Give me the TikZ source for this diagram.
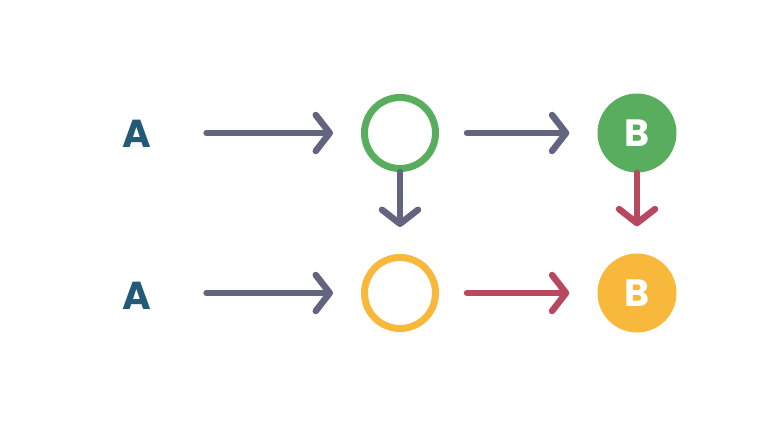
\documentclass[tikz,border=0pt]{standalone}
\usepackage{fontspec}
\setmainfont{Poppins}
\usetikzlibrary{arrows.meta}

\definecolor{letterblue}{HTML}{235A78}
\definecolor{arrowgray}{HTML}{63647F}
\definecolor{arrowred}{HTML}{B84860}
\definecolor{ringgreen}{HTML}{58AE5E}
\definecolor{ringyellow}{HTML}{F8B83C}

\tikzset{
  letter/.style={text=letterblue,font=\fontsize{39}{39}\selectfont\bfseries,inner sep=0pt},
  ring/.style={circle,draw=#1,line width=7pt,minimum size=71pt,inner sep=0pt},
  disc/.style={circle,fill=#1,minimum size=79pt,inner sep=0pt,text=white,
    font=\fontsize{38}{38}\selectfont\bfseries},
  flow/.style={draw=#1,line width=6.5pt,line cap=round,
    -{Straight Barb[length=14pt,width=36pt,round]}}
}

\begin{document}
\begin{tikzpicture}[x=1pt,y=-1pt]
        \useasboundingbox (0,0) rectangle (768,432);
        % top row
        \node[letter] (a1) at (137,134) {A};
        \node[ring=ringgreen] (c1) at (400,133) {};
        \node[disc=ringgreen] (b1) at (637,133) {B};
        % bottom row
        \node[letter] (a2) at (137,296) {A};
        \node[ring=ringyellow] (c2) at (400,293) {};
        \node[disc=ringyellow] (b2) at (637,293) {B};
        % arrows
        \draw[flow=arrowgray,shorten <=55pt,shorten >=28pt] (a1.east |- c1) -- (c1);
        \draw[flow=arrowgray,shorten <=28pt,shorten >=28pt] (c1) -- (b1);
        \draw[flow=arrowgray,shorten <=55pt,shorten >=28pt] (a2.east |- c2) -- (c2);
        \draw[flow=arrowred,shorten <=28pt,shorten >=28pt] (c2) -- (b2);
        \draw[flow=arrowgray,shorten >=27pt] (c1.south) -- (c2.north);
        \draw[flow=arrowred,shorten >=27pt] (b1.south) -- (b2.north);
\end{tikzpicture}
\end{document}
